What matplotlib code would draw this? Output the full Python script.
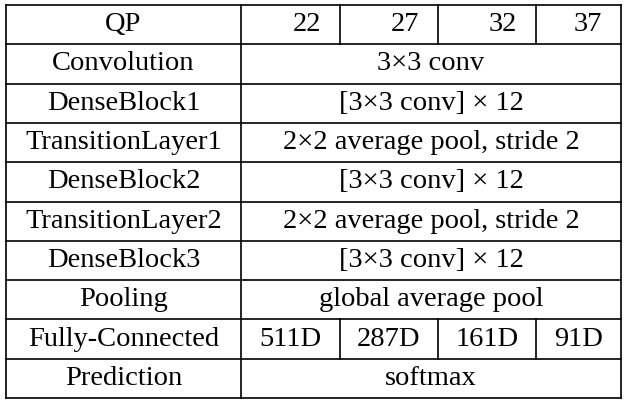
import matplotlib
matplotlib.use("Agg")
import matplotlib.pyplot as plt

W, H = 631, 409
row_labels = ["QP", "Convolution", "DenseBlock1", "TransitionLayer1", "DenseBlock2",
              "TransitionLayer2", "DenseBlock3", "Pooling", "Fully-Connected", "Prediction"]
qp_values = ["22", "27", "32", "37"]
fc_values = ["511D", "287D", "161D", "91D"]
span_texts = {1: "3×3 conv", 2: "[3×3 conv] × 12", 3: "2×2 average pool, stride 2",
              4: "[3×3 conv] × 12", 5: "2×2 average pool, stride 2", 6: "[3×3 conv] × 12",
              7: "global average pool", 9: "softmax"}

fig = plt.figure(figsize=(W/100, H/100), dpi=100)
ax = fig.add_axes([0, 0, 1, 1])
ax.set_xlim(0, W); ax.set_ylim(H, 0); ax.axis("off")

x0, xs, x1 = 6, 241, 621
seps = [340, 438, 536]
y0, y1 = 5, 398
n = len(row_labels)
rh = (y1 - y0) / n
lw = 1.2
fs = 20.5
font = dict(family="Liberation Serif", fontsize=fs, color="black")

for i in range(n + 1):
    ax.plot([x0, x1], [y0 + i*rh]*2, color="black", lw=lw)
for x in (x0, xs, x1):
    ax.plot([x, x], [y0, y1], color="black", lw=lw)
for r in (0, 8):
    for x in seps:
        ax.plot([x, x], [y0 + r*rh, y0 + (r+1)*rh], color="black", lw=lw)

for i, lab in enumerate(row_labels):
    yc = y0 + (i + 0.5)*rh
    ax.text((x0 + xs)/2, yc, lab, ha="center", va="center", **font)
    if i in span_texts:
        ax.text((xs + x1)/2, yc, span_texts[i], ha="center", va="center", **font)

edges = [xs] + seps + [x1]
yc = y0 + 0.5*rh
for j, v in enumerate(qp_values):
    ax.text(edges[j+1] - 19, yc, v, ha="right", va="center", **font)
yc = y0 + 8.5*rh
for j, v in enumerate(fc_values):
    ax.text((edges[j] + edges[j+1])/2, yc, v, ha="center", va="center", **font)

fig.savefig("out.png", dpi=100)
